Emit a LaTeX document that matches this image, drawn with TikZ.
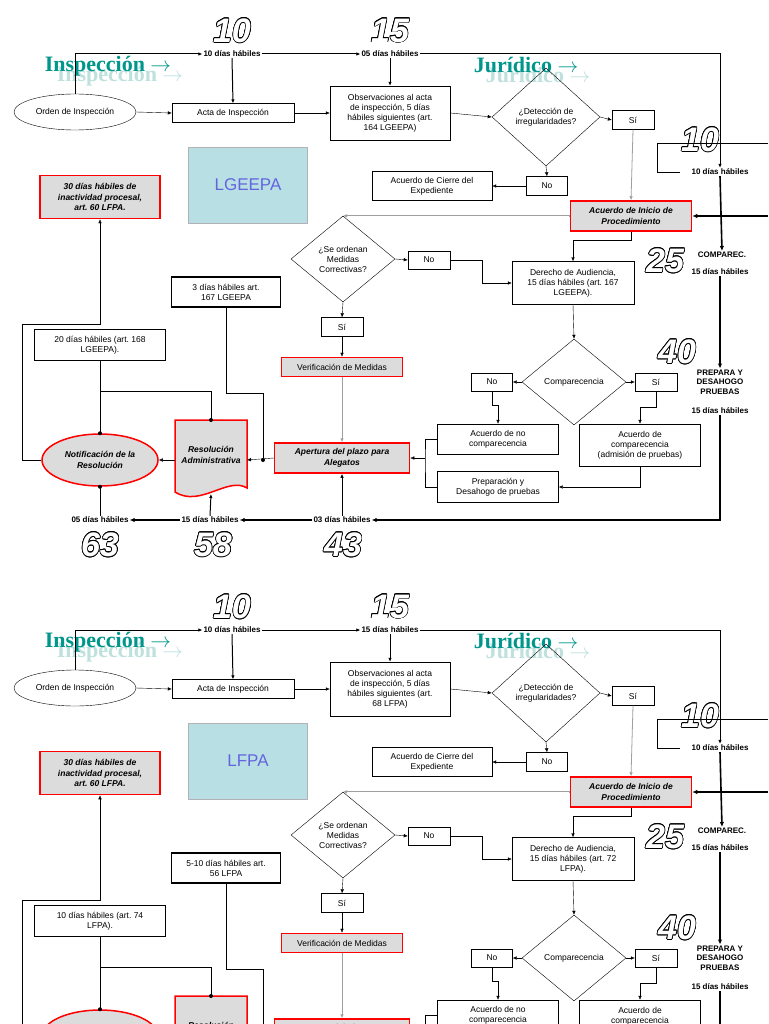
\documentclass[tikz,border=0pt]{standalone}
\usepackage{fontspec}
\setmainfont{Liberation Sans}
\newfontfamily\serifb{Liberation Serif}
\usepackage{contour}
\contourlength{0.7pt}
\usetikzlibrary{shapes.geometric,arrows.meta}
\definecolor{teal1}{RGB}{0,150,140}
\definecolor{teal2}{RGB}{190,225,222}
\definecolor{lawbg}{RGB}{184,224,228}
\definecolor{lawtx}{RGB}{100,100,220}
\definecolor{gfill}{RGB}{220,220,220}
\tikzset{
 x=1pt,y=-1pt,
 every node/.style={font=\fontsize{8.5}{10}\selectfont, align=center, inner sep=1pt},
 box/.style={draw, thin, fill=white},
 bbox/.style={draw, line width=1.2pt, fill=white},
 rbox/.style={draw=red, line width=1.5pt, fill=gfill, font=\fontsize{8.5}{10.5}\selectfont\bfseries\itshape},
 dia/.style={draw, diamond, inner sep=0pt},
 lab/.style={font=\fontsize{8}{9.5}\selectfont\bfseries},
 num/.style={font=\fontsize{34}{34}\selectfont\bfseries\itshape},
 ar/.style={-{Latex[length=4pt,width=3.5pt]}, thin},
 tar/.style={-{Latex[length=5pt,width=4.5pt]}, line width=1.6pt},
 gar/.style={-{Latex[length=4pt,width=3.5pt]}, draw=gray!75, line width=0.8pt},
 dot/.style={circle, fill, inner sep=0pt, minimum size=4pt},
 title/.style={font=\serifb\fontsize{22}{22}\selectfont\bfseries, text=teal1},
 shadow/.style={font=\serifb\fontsize{22}{22}\selectfont\bfseries, text=teal2},
}
\newcommand{\bignum}[1]{\contour{black}{\textcolor{white}{#1}}}
\newcommand{\panel}[8]{%
\begin{scope}[shift={(0,#2)}]
 % titles
 \node[shadow] (#1sh1) at (120,76) {Inspección $\rightarrow$};
 \node[title] (#1t1) at (108,66) {Inspección $\rightarrow$};
 \node[shadow] (#1sh2) at (538,75) {Jurídico $\rightarrow$};
 \node[title] (#1t2) at (526,65) {Jurídico $\rightarrow$};
 % big numbers
 \node[num] (#1n10) at (232,31) {\bignum{10}};
 \node[num] (#1n15) at (390,31) {\bignum{15}};
 % top labels
 \node[lab] (#1l10) at (232,54) {10 días hábiles};
 \node[lab] (#1l05) at (390,54) {#4};
 % nodes
 \node[draw, ellipse, minimum width=122, minimum height=36, fill=white] (#1orden) at (75,112) {Orden de Inspección};
 \node[box, minimum width=122, minimum height=19] (#1acta) at (233,113) {Acta de Inspección};
 \node[box, minimum width=120, minimum height=54] (#1obs) at (390,113) {#5};
 \node[dia, minimum width=108, minimum height=98] (#1det) at (546,117) {¿Detección de\\irregularidades?};
 \node[box, minimum width=42, minimum height=19] (#1si1) at (633,120) {Sí};
 \node[box, minimum width=41, minimum height=19] (#1no1) at (547,186) {No};
 \node[box, minimum width=120, minimum height=29] (#1cierre) at (432,186) {Acuerdo de Cierre del\\Expediente};
 \node[draw=gray!60, fill=lawbg, minimum width=119, minimum height=76, text=lawtx, font=\fontsize{17}{17}\selectfont] (#1law) at (248,185) {#3};
 \node[rbox, minimum width=120, minimum height=43] (#1t30) at (100,197) {30 días hábiles de\\inactividad procesal,\\art. 60 LFPA.};
 \node[rbox, minimum width=121, minimum height=30] (#1ini) at (631,216) {Acuerdo de Inicio de\\Procedimiento};
 \node[dia, minimum width=104, minimum height=86] (#1med) at (343,259) {¿Se ordenan\\Medidas\\Correctivas?};
 \node[box, minimum width=42, minimum height=18] (#1no2) at (429,260) {No};
 \node[box, minimum width=122, minimum height=43] (#1der) at (573,283) {#6};
 \node[bbox, minimum width=109, minimum height=30] (#1pl) at (226,292) {#7};
 \node[bbox, minimum width=131, minimum height=31] (#1d20) at (100,345) {#8};
 \node[box, minimum width=42, minimum height=19] (#1si2) at (342,327) {Sí};
 \node[rbox, font=\fontsize{8.5}{10}\selectfont, minimum width=121, minimum height=19] (#1ver) at (342,367) {Verificación de Medidas};
 \node[dia, minimum width=104, minimum height=86] (#1comp) at (574,382) {Comparecencia};
 \node[box, minimum width=41, minimum height=18] (#1no3) at (492,382) {No};
 \node[box, minimum width=42, minimum height=18] (#1si3) at (656,382) {Sí};
 \node[box, minimum width=121, minimum height=30] (#1acno) at (498,439) {Acuerdo de no\\comparecencia};
 \node[box, minimum width=121, minimum height=42] (#1acsi) at (640,445) {Acuerdo de\\comparecencia\\(admisión de pruebas)};
 \node[box, minimum width=121, minimum height=31] (#1prep) at (498,487) {Preparación y\\Desahogo de pruebas};
 \node[rbox, minimum width=135, minimum height=30] (#1ap) at (342,458) {Apertura del plazo para\\Alegatos};
 \draw[red, line width=1.5pt, fill=gfill] (175,420) -- (247,420) -- (247,488) .. controls (228,476) and (200,508) .. (175,492) -- cycle;
 \node[font=\fontsize{8.5}{10.5}\selectfont\bfseries\itshape] (#1res) at (211,455) {Resolución\\Administrativa};
 \coordinate (#1rese) at (247,460);
 \coordinate (#1resn) at (211,420);
 \coordinate (#1ress) at (211,494);
 \node[draw=red, line width=1.5pt, fill=gfill, ellipse, minimum width=116, minimum height=52, inner sep=0pt, font=\fontsize{8.5}{10.5}\selectfont\bfseries\itshape] (#1not) at (100,460) {Notificación de la\\Resolución};
 % bottom labels
 \node[lab] (#1b05) at (100,520) {05 días hábiles};
 \node[lab] (#1b15) at (210,520) {15 días hábiles};
 \node[lab] (#1b03) at (342,520) {03 días hábiles};
 \node[num] (#1n63) at (100,545) {\bignum{63}};
 \node[num] (#1n58) at (213,545) {\bignum{58}};
 \node[num] (#1n43) at (343,545) {\bignum{43}};
 % right column
 \node[num] (#1n10r) at (700,140) {\bignum{10}};
 \node[lab] (#1r10) at (720,172) {10 días hábiles};
 \node[num] (#1n25) at (665,261) {\bignum{25}};
 \node[lab] (#1rcomp) at (722,255) {COMPAREC.};
 \node[lab] (#1r15a) at (720,272) {15 días hábiles};
 \node[num] (#1n40) at (677,352) {\bignum{40}};
 \node[lab] (#1rprep) at (720,382) {PREPARA Y\\DESAHOGO\\PRUEBAS};
 \node[lab] (#1r15b) at (720,411) {15 días hábiles};
 \coordinate (#1re) at (768,216);
 \coordinate (#1bk1) at (768,143);
 \coordinate (#1bk2) at (680,172);
 % connectors
 \draw[ar, line width=1pt] (#1orden.north) |- (#1l10.west);
 \draw[ar, line width=1pt] (#1l10.east) -- (#1l05.west);
 \draw[ar, line width=1pt] (#1l05.east) -| (#1r10.north);
 \draw[ar, line width=1pt] (#1l10.south) -- (#1acta.north);
 \draw[ar, line width=1pt] (#1l05.south) -- (#1obs.north);
 \draw[ar] (#1orden.east) -- (#1acta.west);
 \draw[ar] (#1acta.east) -- (#1obs.west);
 \draw[ar] (#1obs.east) -- (#1det.west);
 \draw[ar] (#1det.east) -- (#1si1.west);
 \draw[ar] (#1det.south) -- (#1no1.north);
 \draw[ar] (#1no1.west) -- (#1cierre.east);
 \draw[gar] (#1si1.south) -- (#1ini.north);
 \draw (#1bk1) -| (657,172) -- (#1bk2);
 \draw[tar] (#1r10.south) -- (#1rcomp.north);
 \draw[tar] (#1re) -- (#1ini.east);
 \draw[tar] (#1r15a.south) -- (#1rprep.north);
 \draw[tar] (#1r15b.south) |- (#1b03.east);
 \draw[gar] (#1ini.west) -- (#1med.north -| #1ini.west) -- (#1med.north);
 \draw[ar] (#1med.east) -- (#1no2.west);
 \draw[ar] (#1no2.east) -- (482,260) |- (#1der.west);
 \draw[ar] (#1ini.south) -- (631,240) -| (#1der.north);
 \draw[ar] (#1der.south) -- (#1comp.north);
 \draw[ar] (#1comp.west) -- (#1no3.east);
 \draw[ar] (#1comp.east) -- (#1si3.west);
 \draw[ar] (#1no3.south) -- (492,405) -| (#1acno.north);
 \draw[ar] (#1si3.south) -- (656,407) -| (#1acsi.north);
 \draw[ar] (#1acsi.south) |- (#1prep.east);
 \draw (#1acno.west) -| (425,458) |- (#1prep.west);
 \draw[ar] (425,458) -- (#1ap.east);
 \draw[ar] (#1med.south) -- (#1si2.north);
 \draw[ar] (#1si2.south) -- (#1ver.north);
 \draw[gar] (#1ver.south) -- (#1ap.north);
 \draw[ar] (#1ap.west) -- (#1rese);
 \node[dot] (#1dt1) at (263,460) {};
 \draw (#1pl.south) -- (226,393) -| (#1dt1);
 \draw[ar] (175,460) -- (#1not.east);
 \draw (#1d20.south) -- (#1not.north);
 \node[dot] (#1dt2) at (#1not.north) {};
 \draw (100,391) -| (#1resn);
 \node[dot] (#1dt3) at (#1resn) {};
 \draw[ar] (#1not.west) -- (22,460) |- (100,324) -- (#1t30.south);
 \draw[tar, line width=1.3pt] (#1b03.west) -- (#1b15.east);
 \draw[tar, line width=1.3pt] (#1b15.west) -- (#1b05.east);
 \draw[ar, line width=1pt] (#1b03.north) -- (#1ap.south);
 \draw[ar, line width=1pt] (#1b15.north) -- (#1ress);
 \draw[line width=1pt] (#1b05.north) -- (#1not.south);
 \node[dot] (#1dt4) at (#1not.south) {};
\end{scope}}
\begin{document}
\frenchspacing
\begin{tikzpicture}
\useasboundingbox (0,0) rectangle (768,1024);
\clip (0,0) rectangle (768,1024);
\fill[white] (0,0) rectangle (768,1024);
\panel{a}{0}{LGEEPA}{05 días hábiles}{Observaciones al acta\\de inspección, 5 días\\hábiles siguientes (art.\\164 LGEEPA)}{Derecho de Audiencia,\\15 días hábiles (art. 167\\LGEEPA).}{3 días hábiles art.\\167 LGEEPA}{20 días hábiles (art. 168\\LGEEPA).}
\panel{b}{576}{LFPA}{15 días hábiles}{Observaciones al acta\\de inspección, 5 días\\hábiles siguientes (art.\\68 LFPA)}{Derecho de Audiencia,\\15 días hábiles (art. 72\\LFPA).}{5-10 días hábiles art.\\56 LFPA}{10 días hábiles (art. 74\\LFPA).}
\end{tikzpicture}
\end{document}
